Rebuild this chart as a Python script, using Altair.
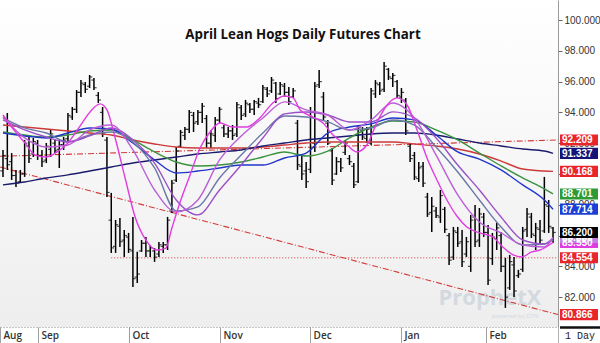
import altair as alt
import pandas as pd

# ---------------- data ----------------
highs = [91.56, 93.96, 91.36, 90.26, 90.26, 92.21, 92.40, 92.34, 92.21, 91.56,
         92.01, 92.86, 92.21, 92.21, 92.40, 93.96, 94.35, 95.45, 96.10, 95.97,
         96.43, 96.23, 95.32, 94.35, 92.40, 88.77, 87.01, 87.14, 86.36, 86.17,
         87.21, 84.94, 85.71, 85.91, 85.39, 85.19, 85.58, 85.58, 87.21, 89.61,
         91.75, 92.86, 93.05, 94.16, 94.03, 94.16, 94.61, 93.83, 92.86, 93.70,
         94.35, 93.18, 93.05, 93.18, 94.68, 94.48, 94.81, 94.61, 94.81, 94.94,
         95.78, 95.65, 96.30, 95.97, 95.97, 95.91, 95.65, 95.58, 93.51, 91.23,
         90.78, 94.35, 95.97, 96.75, 95.32, 93.51, 91.69, 91.10, 91.04, 92.21,
         91.23, 90.71, 93.18, 93.05, 93.05, 95.58, 96.10, 95.97, 97.27, 96.88,
         96.56, 96.10, 95.58, 94.94, 92.01, 91.43, 90.78, 90.78, 88.77, 88.51,
         87.86, 88.96, 87.86, 86.17, 86.56, 86.56, 86.36, 85.91, 87.34, 87.99,
         87.79, 87.47, 86.69, 86.17, 86.82, 86.23, 84.55, 84.74, 84.61, 83.77,
         86.56, 87.79, 87.47, 86.82, 87.01, 89.81, 88.31, 86.56]
lows = [89.81, 90.26, 89.61, 89.16, 89.42, 89.81, 90.71, 91.10, 90.91, 90.45,
        90.71, 91.10, 91.36, 90.39, 91.56, 92.01, 93.51, 93.96, 95.00, 95.26,
        95.58, 95.45, 94.61, 92.40, 88.51, 84.87, 84.87, 85.26, 84.61, 84.87,
        82.66, 82.92, 84.94, 84.61, 84.61, 84.29, 84.61, 84.87, 85.06, 87.47,
        89.48, 91.75, 92.21, 92.66, 92.73, 93.18, 93.31, 91.69, 91.69, 92.08,
        93.31, 92.40, 92.34, 92.21, 92.40, 93.51, 93.70, 93.96, 93.83, 94.29,
        94.61, 95.00, 95.26, 94.61, 95.13, 95.00, 94.48, 94.94, 90.26, 89.61,
        89.09, 90.06, 91.43, 95.58, 93.51, 91.88, 89.29, 89.94, 90.13, 91.23,
        90.58, 89.09, 89.42, 92.21, 92.01, 91.88, 94.94, 95.13, 95.32, 96.10,
        95.65, 94.94, 94.61, 92.53, 90.78, 89.61, 89.48, 89.16, 87.21, 86.23,
        87.14, 86.82, 86.17, 84.09, 84.42, 85.26, 83.96, 84.61, 83.64, 85.26,
        85.26, 85.91, 82.79, 84.09, 85.06, 83.64, 81.30, 82.47, 82.01, 83.25,
        83.64, 85.91, 85.84, 85.06, 85.39, 86.17, 86.17, 85.52]
opens = [90.2, 91.0, 90.8, 89.9, 89.5, 90.0, 91.8, 91.3, 92.0, 91.2,
         90.9, 91.6, 92.0, 91.6, 91.9, 92.3, 93.7, 94.2, 95.3, 95.8,
         95.7, 96.1, 95.1, 94.0, 92.2, 87.0, 85.3, 86.6, 85.7, 85.9,
         85.0, 83.3, 85.0, 85.5, 85.0, 85.0, 84.8, 85.3, 85.4, 87.6,
         89.6, 91.8, 92.5, 92.9, 93.8, 93.4, 94.0, 93.6, 92.0, 92.5,
         93.5, 93.0, 92.6, 92.8, 92.6, 94.3, 93.9, 94.5, 94.2, 94.6,
         94.7, 95.5, 95.4, 95.9, 95.2, 95.7, 95.3, 95.0, 93.3, 90.5,
         90.2, 90.3, 92.0, 95.8, 95.0, 93.3, 91.5, 90.0, 90.8, 91.4,
         91.0, 90.5, 89.5, 92.8, 92.3, 92.0, 95.2, 95.8, 95.5, 96.8,
         96.2, 96.0, 95.0, 94.8, 91.8, 91.2, 89.7, 90.5, 88.5, 87.5,
         87.6, 87.2, 87.7, 86.0, 84.6, 86.2, 85.6, 84.8, 84.0, 87.2,
         85.7, 87.2, 86.2, 84.5, 85.8, 86.0, 84.0, 82.6, 84.1, 83.4,
         83.8, 86.4, 87.2, 86.0, 86.4, 86.3, 87.9, 86.5]
closes = [91.2, 90.6, 89.9, 89.4, 90.0, 92.0, 91.0, 92.1, 91.2, 90.8,
          91.8, 92.6, 91.5, 91.9, 92.2, 93.8, 94.2, 95.3, 95.9, 95.5,
          96.3, 95.6, 94.8, 92.6, 88.8, 85.2, 86.7, 85.6, 86.0, 85.1,
          83.2, 83.5, 85.5, 85.0, 85.2, 84.6, 85.4, 85.4, 87.0, 89.4,
          91.5, 92.7, 92.9, 94.0, 93.3, 94.0, 94.4, 92.0, 92.6, 93.5,
          94.2, 92.6, 92.8, 92.5, 94.5, 93.8, 94.6, 94.2, 94.7, 94.5,
          95.6, 95.2, 96.1, 94.9, 95.8, 95.3, 94.7, 95.4, 90.6, 90.0,
          89.5, 94.0, 95.7, 96.0, 93.7, 92.0, 89.6, 90.8, 90.4, 92.0,
          90.8, 89.3, 93.0, 92.4, 92.9, 95.4, 95.9, 95.4, 97.0, 96.3,
          96.4, 95.1, 95.3, 92.8, 91.0, 89.8, 90.4, 89.4, 87.4, 87.9,
          87.3, 88.6, 86.4, 84.4, 86.3, 85.5, 84.3, 85.6, 87.0, 85.6,
          87.4, 86.2, 83.1, 85.9, 86.5, 84.0, 82.0, 84.3, 82.4, 83.5,
          86.3, 87.4, 86.1, 86.5, 85.7, 88.0, 86.6, 86.2]

# moving averages, read at every 5th bar (plus the last one)
ma_knots = [0, 5, 10, 15, 20, 25, 30, 35, 40, 45, 50, 55, 60, 65, 70, 75,
            80, 85, 90, 95, 100, 105, 110, 115, 120, 125, 127]
ma_red = [93.18, 93.05, 92.92, 92.79, 92.66, 92.53, 92.21, 91.95, 91.75, 91.69,
          91.69, 91.69, 91.75, 91.88, 92.01, 92.08, 92.08, 92.08, 92.08, 91.95,
          91.82, 91.62, 91.30, 90.84, 90.32, 90.19, 90.168]
ma_navy = [89.29, 89.48, 89.74, 89.94, 90.19, 90.45, 90.71, 90.91, 91.10, 91.30,
           91.43, 91.56, 91.82, 92.01, 92.21, 92.34, 92.47, 92.60, 92.66, 92.66,
           92.53, 92.27, 92.01, 91.82, 91.62, 91.49, 91.337]
ma_green = [92.73, 92.53, 92.40, 92.53, 92.79, 92.86, 92.21, 91.43, 90.78, 90.52,
            90.58, 90.78, 91.10, 91.43, 91.17, 91.49, 92.34, 93.05, 93.44, 93.38,
            92.86, 92.21, 91.36, 90.52, 89.74, 89.03, 88.701]
ma_blue = [92.66, 92.47, 92.34, 92.66, 92.99, 92.92, 92.01, 90.91, 90.06, 90.19,
           90.39, 90.58, 90.58, 91.04, 91.36, 92.66, 93.05, 93.25, 93.64, 93.51,
           92.53, 91.43, 90.97, 90.26, 89.29, 88.31, 87.714]
ma_slate = [93.64, 92.99, 92.66, 92.08, 92.53, 92.73, 92.08, 90.39, 87.60, 87.86,
            89.74, 91.23, 92.66, 93.77, 93.70, 93.38, 92.86, 92.99, 93.51, 93.18,
            91.75, 90.13, 88.31, 86.56, 85.39, 85.45, 85.71]
ma_purple2 = [93.51, 92.86, 92.40, 92.08, 92.47, 92.99, 92.21, 90.71, 88.31, 87.34,
              88.96, 90.58, 92.34, 93.90, 94.03, 93.83, 93.38, 93.38, 94.03, 93.64,
              92.34, 90.58, 88.96, 87.21, 85.71, 85.45, 85.84]
ma_purple1 = [93.70, 92.34, 91.75, 91.88, 92.86, 93.18, 91.56, 88.96, 87.53, 88.31,
              90.91, 92.47, 93.64, 94.68, 94.16, 93.83, 92.86, 93.51, 94.61, 93.64,
              91.23, 88.64, 86.88, 86.17, 85.39, 85.26, 85.88]
mag_idx = [0, 2.5, 5.1, 7.4, 9.9, 12.5, 15, 17.5, 20.1, 22.4,
           24, 25.9, 28.2, 30.5, 33, 35.6, 37.6, 39, 40.9, 43.2,
           45.5, 47.8, 50.1, 53.1, 56.3, 59.3, 62.3, 64.9, 67, 68.6,
           71.6, 73.9, 76.2, 79.4, 81.7, 84, 86.4, 88.7, 91, 93.3,
           95.6, 97.9, 100.2, 102.5, 104.8, 107.1, 110.1, 113.1, 115.4, 117.8,
           119.8, 122.1, 124, 127]
mag_val = [93.83, 92.86, 92.01, 91.23, 91.10, 91.43, 92.01, 92.99, 94.03, 94.55,
           94.16, 92.34, 89.74, 87.21, 85.71, 85.06, 85.19, 86.49, 88.18, 89.94,
           91.69, 92.73, 93.31, 93.05, 93.05, 93.64, 94.61, 95.06, 94.94, 94.16,
           93.70, 93.31, 92.53, 91.88, 91.43, 91.88, 93.38, 94.48, 94.94, 94.48,
           92.86, 91.04, 89.61, 88.31, 87.27, 86.56, 86.17, 85.91, 85.26, 84.74,
           84.61, 84.94, 85.06, 85.55]

ma_names = ["red", "navy", "green", "blue", "slate", "purple2", "purple1"]
ma_colors = ["#cc3a3a", "#1b1b6e", "#3a9240", "#2236c8", "#6b78a6", "#9a50c8", "#bb5fd8", "#e03de0"]

# trend lines and levels
x_min, x_max = -0.69, 128.15
up_trend = [91.15, 92.209]
down_trend = [90.45, 80.866]
support_level = 84.554
support_start = 25

# month axis
month_names = ["Aug", "Sep", "Oct", "Nov", "Dec", "Jan", "Feb"]
month_pos = [x_min, 8.08, 29.1, 50.1, 70.9, 91.9, 111.5]

# right hand value labels (first two sit underneath the last-price box)
label_vals = [85.55, 85.88, 92.209, 91.337, 90.168, 88.701, 87.714, 86.200, 84.554, 80.866]
label_cols = ["#e03de0", "#c27fe6", "#e8262a", "#141478", "#e8262a", "#2e9a35",
              "#1c3fd6", "#000000", "#e8262a", "#e8262a"]
label_layer = [0, 0, 1, 1, 1, 1, 1, 1, 1, 1]

title_text = "April Lean Hogs Daily Futures Chart"

# ---------------- chart ----------------
W, H = 558, 327
yscale = alt.Scale(domain=[80.06, 101.3], nice=False, zero=False)
xscale = alt.Scale(domain=[x_min, x_max], nice=False, zero=False)

bars = pd.DataFrame({"i": list(range(len(highs))), "high": highs, "low": lows,
                     "open": opens, "close": closes})

rows = []
for name, vals in zip(ma_names, [ma_red, ma_navy, ma_green, ma_blue, ma_slate, ma_purple2, ma_purple1]):
    for k, v in zip(ma_knots, vals):
        rows.append({"series": name, "i": k, "v": v})
for k, v in zip(mag_idx, mag_val):
    rows.append({"series": "magenta", "i": k, "v": v})
ma_df = pd.DataFrame(rows)

trend_df = pd.DataFrame({
    "i": [x_min, x_max, x_min, x_max],
    "v": up_trend + down_trend,
    "name": ["up", "up", "down", "down"],
})
level_df = pd.DataFrame({"i": [support_start, x_max], "v": [support_level] * 2})

lab_df = pd.DataFrame({"v": label_vals, "col": label_cols, "grp": label_layer,
                       "order": list(range(len(label_vals)))})
lab_df["txt"] = [f"{v:.3f}" for v in label_vals]

gradient = alt.Gradient(
    gradient="linear",
    stops=[alt.GradientStop(offset=0, color="#ffffff"),
           alt.GradientStop(offset=1, color="#eeeeee")],
    x1=0, x2=0, y1=0, y2=1,
)

label_expr = "[" + ",".join(f"'{m}'" for m in month_names) + "][indexof([" + \
    ",".join(str(p) for p in month_pos) + "], datum.value)]"

xaxis = alt.Axis(values=month_pos, labelExpr=label_expr, tickSize=16, labelPadding=-13,
                 labelAlign="left", labelBaseline="top", labelOffset=3,
                 labelFont="Open Sans", labelFontSize=10, labelFontWeight=600,
                 labelColor="#333333", tickColor="#a0a0a0", domainColor="#888888",
                 domainDash=[1, 2], title=None, grid=False, labelFlush=False,
                 labelOverlap=False)
yaxis = alt.Axis(orient="right", values=list(range(82, 101, 2)), format=".3f",
                 labelFont="Liberation Sans", labelFontSize=10, labelColor="#333333",
                 tickColor="#666666", tickSize=4, labelPadding=2, domainColor="#9a9a9a",
                 title=None, grid=False, labelFlush=False, labelOverlap=False)


def X(field="i:Q"):
    return alt.X(field, scale=xscale, axis=xaxis)


def Y(field):
    return alt.Y(field, scale=yscale, axis=yaxis)


one = pd.DataFrame({"a": [0]})

background = alt.Chart(one).mark_rect(fill=gradient).encode(opacity=alt.value(1))

watermark = alt.Chart(one).mark_text(text="ProphetX", font="Open Sans", fontSize=22,
                                     fontWeight="bold", color="#d3d9df", align="center",
                                     baseline="alphabetic").encode(
    x=alt.value(490), y=alt.value(305))
watermark2 = alt.Chart(one).mark_text(text="powered by DTN", font="Open Sans", fontSize=6,
                                      color="#d3d9df", align="center").encode(
    x=alt.value(515), y=alt.value(316))

trend = alt.Chart(trend_df).mark_line(color="#d23a3a", strokeWidth=1.1,
                                      strokeDash=[6, 2, 1, 2]).encode(
    x=X(), y=Y("v:Q"), detail="name:N")
level = alt.Chart(level_df).mark_line(color="#d23a3a", strokeWidth=1,
                                      strokeDash=[1, 2]).encode(
    x=X(), y=Y("v:Q"))

hl = alt.Chart(bars).mark_rule(color="#000000", strokeWidth=1.5).encode(
    x=X(), y=Y("high:Q"), y2="low:Q")
otick = alt.Chart(bars).mark_tick(orient="horizontal", size=2.4, thickness=1.2,
                                  color="#000000", xOffset=-1.5).encode(
    x=X(), y=Y("open:Q"))
ctick = alt.Chart(bars).mark_tick(orient="horizontal", size=2.4, thickness=1.2,
                                  color="#000000", xOffset=1.5).encode(
    x=X(), y=Y("close:Q"))

lines = alt.Chart(ma_df).mark_line(interpolate="monotone", strokeWidth=1.4).encode(
    x=X(), y=Y("v:Q"),
    color=alt.Color("series:N", scale=alt.Scale(domain=ma_names + ["magenta"], range=ma_colors),
                    legend=None))


def label_layers(grp):
    base = alt.Chart(lab_df).transform_filter(f"datum.grp == {grp}")
    boxes = base.transform_calculate(
        top="datum.v + 0.36", bot="datum.v - 0.36"
    ).mark_rect().encode(
        x=alt.value(560), x2=alt.value(598),
        y=Y("top:Q"), y2="bot:Q",
        fill=alt.Color("col:N", scale=None), order="order:Q")
    texts = base.mark_text(align="left", baseline="middle", font="Liberation Sans",
                           fontSize=10, fontWeight="bold", color="#ffffff",
                           dy=0.5).encode(
        x=alt.value(562), y=Y("v:Q"), text="txt:N", order="order:Q")
    return [boxes, texts]


title = alt.Chart(one).mark_text(text=title_text, font="Open Sans", fontSize=13.3,
                                 fontWeight="bold", color="#111111", align="center",
                                 baseline="alphabetic").encode(
    x=alt.value(303), y=alt.value(39))

day_bar = alt.Chart(one).mark_rule(color="#111111", strokeWidth=2.5).encode(
    x=alt.value(560), x2=alt.value(600), y=alt.value(327.5))
sep = alt.Chart(one).mark_rule(color="#b0b0b0", strokeWidth=1).encode(
    x=alt.value(558.5), y=alt.value(327), y2=alt.value(343))
day_text = alt.Chart(one).mark_text(text="1 Day", font="Liberation Mono", fontSize=10,
                                    color="#222222", align="center", baseline="middle").encode(
    x=alt.value(580), y=alt.value(336))

chart = alt.layer(
    background, watermark, watermark2, trend, level, hl, otick, ctick, lines,
    *label_layers(0), *label_layers(1), title, day_bar, sep, day_text
).properties(
    width=W, height=H,
    padding={"left": 0, "top": 0, "right": 42, "bottom": 16},
    autosize=alt.AutoSizeParams(type="none"),
    background="#ffffff",
).configure_view(stroke=None)

chart.save("out.html", embed_options={"renderer": "svg", "actions": False})
